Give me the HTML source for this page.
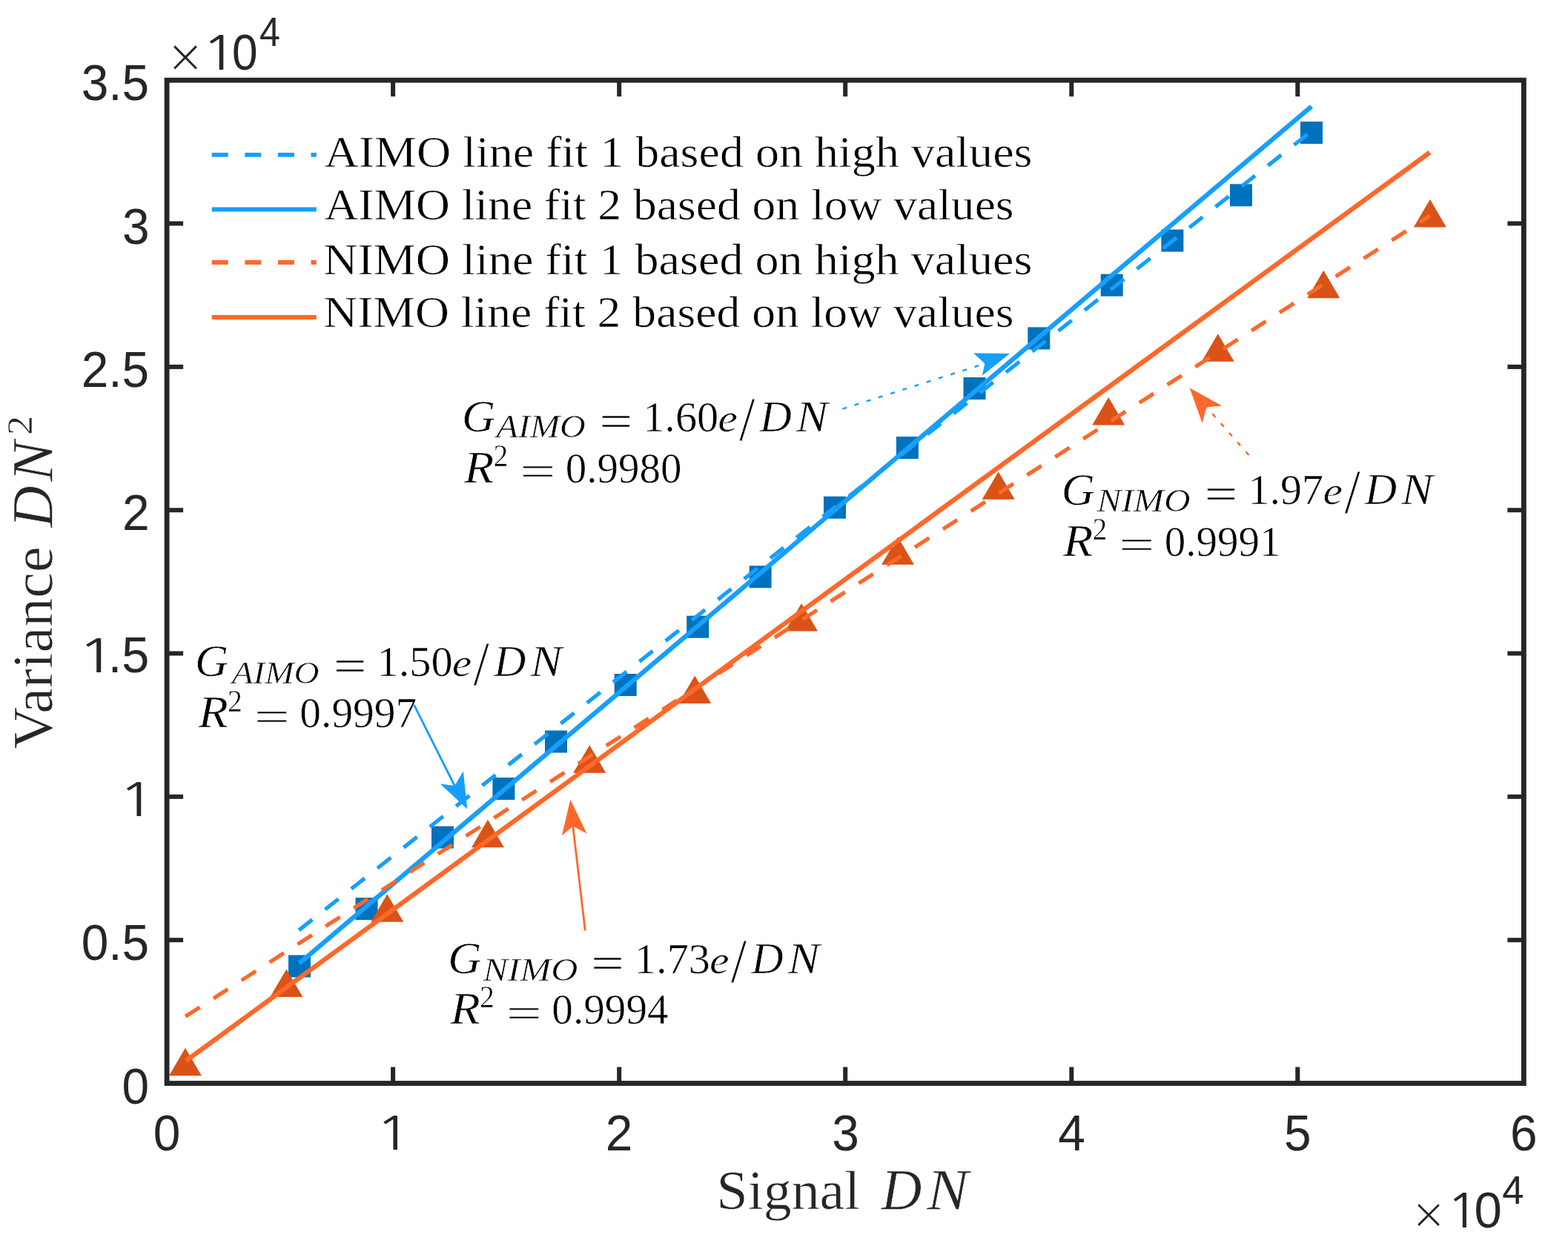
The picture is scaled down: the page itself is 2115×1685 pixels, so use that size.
<!DOCTYPE html><html><head><meta charset="utf-8"><title>Variance vs Signal</title><style>html,body{margin:0;padding:0;background:#fff;}svg{display:block;}</style></head><body>
<svg width="2115" height="1685" viewBox="0 0 2115 1685">
<rect x="0" y="0" width="2115" height="1685" fill="#fff"/>
<defs><filter id="soft" x="0" y="0" width="100%" height="100%" filterUnits="userSpaceOnUse"><feGaussianBlur stdDeviation="0.6"/></filter></defs>
<g filter="url(#soft)">
<g>
<rect x="389.0" y="1288.5" width="30" height="30" fill="#0072BD"/>
<rect x="479.5" y="1211.0" width="30" height="30" fill="#0072BD"/>
<rect x="582.0" y="1114.6" width="30" height="30" fill="#0072BD"/>
<rect x="664.4" y="1049.0" width="30" height="30" fill="#0072BD"/>
<rect x="735.0" y="985.5" width="30" height="30" fill="#0072BD"/>
<rect x="828.7" y="909.0" width="30" height="30" fill="#0072BD"/>
<rect x="926.2" y="830.7" width="30" height="30" fill="#0072BD"/>
<rect x="1010.6" y="763.2" width="30" height="30" fill="#0072BD"/>
<rect x="1111.0" y="669.7" width="30" height="30" fill="#0072BD"/>
<rect x="1208.9" y="589.0" width="30" height="30" fill="#0072BD"/>
<rect x="1299.5" y="509.0" width="30" height="30" fill="#0072BD"/>
<rect x="1386.3" y="441.4" width="30" height="30" fill="#0072BD"/>
<rect x="1484.7" y="369.7" width="30" height="30" fill="#0072BD"/>
<rect x="1566.4" y="309.6" width="30" height="30" fill="#0072BD"/>
<rect x="1659.0" y="248.3" width="30" height="30" fill="#0072BD"/>
<rect x="1754.0" y="164.0" width="30" height="30" fill="#0072BD"/>
<polygon points="249.9,1413.7 271.9,1451.2 227.9,1451.2" fill="#D95319"/>
<polygon points="386.4,1307.5 408.4,1345.0 364.4,1345.0" fill="#D95319"/>
<polygon points="522.3,1206.2 544.3,1243.8 500.3,1243.8" fill="#D95319"/>
<polygon points="658.0,1105.8 680.0,1143.2 636.0,1143.2" fill="#D95319"/>
<polygon points="795.2,1005.2 817.2,1042.8 773.2,1042.8" fill="#D95319"/>
<polygon points="937.2,911.5 959.2,949.0 915.2,949.0" fill="#D95319"/>
<polygon points="1081.0,814.0 1103.0,851.5 1059.0,851.5" fill="#D95319"/>
<polygon points="1211.0,724.2 1233.0,761.8 1189.0,761.8" fill="#D95319"/>
<polygon points="1346.7,636.2 1368.7,673.8 1324.7,673.8" fill="#D95319"/>
<polygon points="1495.2,536.0 1517.2,573.5 1473.2,573.5" fill="#D95319"/>
<polygon points="1642.8,450.2 1664.8,487.8 1620.8,487.8" fill="#D95319"/>
<polygon points="1785.3,364.8 1807.3,402.2 1763.3,402.2" fill="#D95319"/>
<polygon points="1928.9,268.9 1950.9,306.4 1906.9,306.4" fill="#D95319"/>
</g>
<line x1="404" y1="1299.3" x2="1769" y2="143.6" stroke="#149FFF" stroke-width="6.3"/>
<line x1="403.2" y1="1254.9" x2="1769" y2="177.0" stroke="#149FFF" stroke-width="5.2" stroke-dasharray="23 22"/>
<line x1="250.8" y1="1431.1" x2="1928.6" y2="205.6" stroke="#FF682B" stroke-width="6.3"/>
<line x1="250.1" y1="1371.3" x2="1929.0" y2="291.0" stroke="#FF682B" stroke-width="5.2" stroke-dasharray="23 22"/>
<rect x="225.1" y="108.2" width="1830.3000000000002" height="1353.3" fill="none" stroke="#262626" stroke-width="6.8"/>
<line x1="530.1" y1="1461.5" x2="530.1" y2="1439.5" stroke="#262626" stroke-width="6"/>
<line x1="530.1" y1="108.2" x2="530.1" y2="130.2" stroke="#262626" stroke-width="6"/>
<line x1="835.2" y1="1461.5" x2="835.2" y2="1439.5" stroke="#262626" stroke-width="6"/>
<line x1="835.2" y1="108.2" x2="835.2" y2="130.2" stroke="#262626" stroke-width="6"/>
<line x1="1140.2" y1="1461.5" x2="1140.2" y2="1439.5" stroke="#262626" stroke-width="6"/>
<line x1="1140.2" y1="108.2" x2="1140.2" y2="130.2" stroke="#262626" stroke-width="6"/>
<line x1="1445.3" y1="1461.5" x2="1445.3" y2="1439.5" stroke="#262626" stroke-width="6"/>
<line x1="1445.3" y1="108.2" x2="1445.3" y2="130.2" stroke="#262626" stroke-width="6"/>
<line x1="1750.3" y1="1461.5" x2="1750.3" y2="1439.5" stroke="#262626" stroke-width="6"/>
<line x1="1750.3" y1="108.2" x2="1750.3" y2="130.2" stroke="#262626" stroke-width="6"/>
<line x1="225.1" y1="1268.2" x2="247.1" y2="1268.2" stroke="#262626" stroke-width="6"/>
<line x1="2055.4" y1="1268.2" x2="2033.4" y2="1268.2" stroke="#262626" stroke-width="6"/>
<line x1="225.1" y1="1074.8" x2="247.1" y2="1074.8" stroke="#262626" stroke-width="6"/>
<line x1="2055.4" y1="1074.8" x2="2033.4" y2="1074.8" stroke="#262626" stroke-width="6"/>
<line x1="225.1" y1="881.5" x2="247.1" y2="881.5" stroke="#262626" stroke-width="6"/>
<line x1="2055.4" y1="881.5" x2="2033.4" y2="881.5" stroke="#262626" stroke-width="6"/>
<line x1="225.1" y1="688.2" x2="247.1" y2="688.2" stroke="#262626" stroke-width="6"/>
<line x1="2055.4" y1="688.2" x2="2033.4" y2="688.2" stroke="#262626" stroke-width="6"/>
<line x1="225.1" y1="494.9" x2="247.1" y2="494.9" stroke="#262626" stroke-width="6"/>
<line x1="2055.4" y1="494.9" x2="2033.4" y2="494.9" stroke="#262626" stroke-width="6"/>
<line x1="225.1" y1="301.5" x2="247.1" y2="301.5" stroke="#262626" stroke-width="6"/>
<line x1="2055.4" y1="301.5" x2="2033.4" y2="301.5" stroke="#262626" stroke-width="6"/>
<text transform="matrix(0.9750 0 0 1.0095 206.67 1551.90)" font-family='"Liberation Sans",sans-serif' font-size="67.5" fill="#262626">0</text>
<text transform="matrix(1.2045 0 0 0.9045 506.02 1550.50)" font-family='NanumGothic,"Liberation Sans",sans-serif' font-size="67.5" fill="#262626">1</text>
<text transform="matrix(0.9750 0 0 1.0095 816.77 1551.90)" font-family='"Liberation Sans",sans-serif' font-size="67.5" fill="#262626">2</text>
<text transform="matrix(0.9750 0 0 1.0095 1122.15 1551.90)" font-family='"Liberation Sans",sans-serif' font-size="67.5" fill="#262626">3</text>
<text transform="matrix(0.9750 0 0 1.0095 1427.20 1551.90)" font-family='"Liberation Sans",sans-serif' font-size="67.5" fill="#262626">4</text>
<text transform="matrix(0.9750 0 0 1.0242 1731.92 1551.90)" font-family='"Liberation Sans",sans-serif' font-size="67.5" fill="#262626">5</text>
<text transform="matrix(0.9750 0 0 1.0095 2036.97 1551.90)" font-family='"Liberation Sans",sans-serif' font-size="67.5" fill="#262626">6</text>
<text transform="matrix(0.9750 0 0 1.0095 164.38 1488.70)" font-family='"Liberation Sans",sans-serif' font-size="67.5" fill="#262626">0</text>
<text transform="matrix(0.9750 0 0 1.0095 109.75 1295.37)" font-family='"Liberation Sans",sans-serif' font-size="67.5" fill="#262626">0.5</text>
<text transform="matrix(1.2432 0 0 0.9123 159.25 1100.50)" font-family='NanumGothic,"Liberation Sans",sans-serif' font-size="67.5" fill="#262626">1</text>
<text transform="matrix(1.2947 0 0 0.9162 103.97 907.20)" font-family='NanumGothic,"Liberation Sans",sans-serif' font-size="67.5" fill="#262626">1</text>
<text transform="matrix(0.9884 0 0 1.0091 145.70 907.20)" font-family='"Liberation Sans",sans-serif' font-size="67.5" fill="#262626">.5</text>
<text transform="matrix(0.9750 0 0 1.0095 165.04 715.39)" font-family='"Liberation Sans",sans-serif' font-size="67.5" fill="#262626">2</text>
<text transform="matrix(0.9750 0 0 1.0095 109.75 522.06)" font-family='"Liberation Sans",sans-serif' font-size="67.5" fill="#262626">2.5</text>
<text transform="matrix(0.9750 0 0 1.0095 165.04 328.73)" font-family='"Liberation Sans",sans-serif' font-size="67.5" fill="#262626">3</text>
<text transform="matrix(0.9750 0 0 1.0095 109.75 135.40)" font-family='"Liberation Sans",sans-serif' font-size="67.5" fill="#262626">3.5</text>
<text transform="matrix(0.9551 0 0 0.9575 1903.03 1656.75)" font-family='"DejaVu Sans",sans-serif' font-size="60" font-weight="200" fill="#262626">×</text>
<text transform="matrix(1.1014 0 0 0.9454 1950.49 1656.40)" font-family='NanumGothic,"Liberation Sans",sans-serif' font-size="67.5" fill="#262626">1</text>
<text transform="matrix(0.9938 0 0 1.0265 1988.62 1656.40)" font-family='"Liberation Sans",sans-serif' font-size="67.5" fill="#262626">0</text>
<text transform="matrix(1.0106 0 0 1.0357 2026.15 1623.50)" font-family='"Liberation Sans",sans-serif' font-size="52" fill="#262626">4</text>
<g>
<text transform="matrix(1.0256 0 0 1.0425 224.15 97.45)" font-family='"DejaVu Sans",sans-serif' font-size="60" font-weight="200" fill="#262626">×</text>
<text transform="matrix(1.1852 0 0 0.9357 271.80 94.40)" font-family='NanumGothic,"Liberation Sans",sans-serif' font-size="67.5" fill="#262626">1</text>
<text transform="matrix(0.9198 0 0 1.0201 313.12 94.40)" font-family='"Liberation Sans",sans-serif' font-size="67.5" fill="#262626">0</text>
<text transform="matrix(0.9653 0 0 1.0522 350.00 61.80)" font-family='"Liberation Sans",sans-serif' font-size="52" fill="#262626">4</text>
</g>
<text transform="matrix(1.0242 0 0 0.9929 966.59 1631.30)" font-family='"Liberation Serif",serif' font-size="74" fill="#262626" stroke="#fff" stroke-width="0.6">Signal</text>
<text transform="matrix(1.0229 0 0 1.0541 1188.86 1631.30)" font-family='"Liberation Serif",serif' font-size="74" font-style="italic" fill="#262626" stroke="#fff" stroke-width="0.6">D</text>
<text transform="matrix(1.1336 0 0 1.0541 1250.24 1631.30)" font-family='"Liberation Serif",serif' font-size="74" font-style="italic" fill="#262626" stroke="#fff" stroke-width="0.6">N</text>
<g transform="rotate(-90)">
<text transform="matrix(1.0556 0 0 1.0381 -1010.58 70.00)" font-family='"Liberation Serif",serif' font-size="74" fill="#262626" stroke="#fff" stroke-width="0.6">Variance</text>
<text transform="matrix(1.0567 0 0 1.0541 -711.72 70.00)" font-family='"Liberation Serif",serif' font-size="74" font-style="italic" fill="#262626" stroke="#fff" stroke-width="0.6">D</text>
<text transform="matrix(1.1111 0 0 1.0541 -649.68 70.00)" font-family='"Liberation Serif",serif' font-size="74" font-style="italic" fill="#262626" stroke="#fff" stroke-width="0.6">N</text>
<text transform="matrix(1.0038 0 0 0.9353 -586.99 42.80)" font-family='"Liberation Serif",serif' font-size="52" fill="#262626" stroke="#fff" stroke-width="0.6">2</text>
</g>
<line x1="285.7" y1="208.8" x2="426.8" y2="208.8" stroke="#149FFF" stroke-width="5.8" stroke-dasharray="22 22.6"/>
<text transform="matrix(1.0331 0 0 0.9700 437.46 224.70)" font-family='"Liberation Serif",serif' font-size="62" fill="#000" stroke="#fff" stroke-width="0.6">AIMO line fit 1 based on high values</text>
<line x1="285.7" y1="282.5" x2="426.8" y2="282.5" stroke="#149FFF" stroke-width="5.8"/>
<text transform="matrix(1.0253 0 0 0.9700 437.46 296.10)" font-family='"Liberation Serif",serif' font-size="62" fill="#000" stroke="#fff" stroke-width="0.6">AIMO line fit 2 based on low values</text>
<line x1="285.7" y1="354.0" x2="426.8" y2="354.0" stroke="#FF682B" stroke-width="5.8" stroke-dasharray="22 22.6"/>
<text transform="matrix(1.0345 0 0 0.9700 436.18 369.60)" font-family='"Liberation Serif",serif' font-size="62" fill="#000" stroke="#fff" stroke-width="0.6">NIMO line fit 1 based on high values</text>
<line x1="285.7" y1="428.0" x2="426.8" y2="428.0" stroke="#FF682B" stroke-width="5.8"/>
<text transform="matrix(1.0267 0 0 0.9700 436.19 440.70)" font-family='"Liberation Serif",serif' font-size="62" fill="#000" stroke="#fff" stroke-width="0.6">NIMO line fit 2 based on low values</text>
<text transform="matrix(1.0385 0 0 1.0227 622.98 582.20)" font-family='"Liberation Serif",serif' font-size="60" font-style="italic" fill="#000" stroke="#fff" stroke-width="0.6">G</text>
<text transform="matrix(1.0941 0 0 0.9952 669.61 590.20)" font-family='"Liberation Serif",serif' font-size="44" font-style="italic" fill="#000" stroke="#fff" stroke-width="0.6">AIMO</text>
<text transform="matrix(1.3298 0 0 1.0267 808.31 589.04)" font-family='"Liberation Serif",serif' font-size="60" fill="#000" stroke="#fff" stroke-width="0.6">=</text>
<text transform="matrix(0.9733 0 0 0.9621 867.14 582.20)" font-family='"Liberation Serif",serif' font-size="60" fill="#000" stroke="#fff" stroke-width="0.6">1.60</text>
<text transform="matrix(1.0714 0 0 0.9309 968.30 582.20)" font-family='"Liberation Serif",serif' font-size="56" font-style="italic" fill="#000" stroke="#fff" stroke-width="0.6">e</text>
<text transform="matrix(1.2857 0 0 1.4080 997.10 594.11)" font-family='"Liberation Serif",serif' font-size="60" fill="#000" stroke="#fff" stroke-width="0.6">/</text>
<text transform="matrix(0.9954 0 0 0.9769 1024.80 582.20)" font-family='"Liberation Serif",serif' font-size="60" font-style="italic" fill="#000" stroke="#fff" stroke-width="0.6">D</text>
<text transform="matrix(1.0671 0 0 0.9769 1074.04 582.20)" font-family='"Liberation Serif",serif' font-size="60" font-style="italic" fill="#000" stroke="#fff" stroke-width="0.6">N</text>
<text transform="matrix(1.1017 0 0 1.0179 626.00 650.60)" font-family='"Liberation Serif",serif' font-size="60" font-style="italic" fill="#000" stroke="#fff" stroke-width="0.6">R</text>
<text transform="matrix(0.9466 0 0 0.9848 665.61 628.70)" font-family='"Liberation Serif",serif' font-size="42" fill="#000" stroke="#fff" stroke-width="0.6">2</text>
<text transform="matrix(1.4220 0 0 0.9600 701.13 655.10)" font-family='"Liberation Serif",serif' font-size="60" fill="#000" stroke="#fff" stroke-width="0.6">=</text>
<text transform="matrix(0.9501 0 0 0.9672 762.82 650.60)" font-family='"Liberation Serif",serif' font-size="60" fill="#000" stroke="#fff" stroke-width="0.6">0.9980</text>
<text transform="matrix(1.0385 0 0 1.0227 262.98 912.20)" font-family='"Liberation Serif",serif' font-size="60" font-style="italic" fill="#000" stroke="#fff" stroke-width="0.6">G</text>
<text transform="matrix(1.0717 0 0 0.9745 312.66 921.50)" font-family='"Liberation Serif",serif' font-size="44" font-style="italic" fill="#000" stroke="#fff" stroke-width="0.6">AIMO</text>
<text transform="matrix(1.3298 0 0 1.0267 449.71 918.64)" font-family='"Liberation Serif",serif' font-size="60" fill="#000" stroke="#fff" stroke-width="0.6">=</text>
<text transform="matrix(0.9733 0 0 0.9621 508.54 911.80)" font-family='"Liberation Serif",serif' font-size="60" fill="#000" stroke="#fff" stroke-width="0.6">1.50</text>
<text transform="matrix(1.0714 0 0 0.9309 609.70 911.80)" font-family='"Liberation Serif",serif' font-size="56" font-style="italic" fill="#000" stroke="#fff" stroke-width="0.6">e</text>
<text transform="matrix(1.2857 0 0 1.4080 638.50 923.71)" font-family='"Liberation Serif",serif' font-size="60" fill="#000" stroke="#fff" stroke-width="0.6">/</text>
<text transform="matrix(0.9954 0 0 0.9769 666.20 911.80)" font-family='"Liberation Serif",serif' font-size="60" font-style="italic" fill="#000" stroke="#fff" stroke-width="0.6">D</text>
<text transform="matrix(1.0671 0 0 0.9769 715.44 911.80)" font-family='"Liberation Serif",serif' font-size="60" font-style="italic" fill="#000" stroke="#fff" stroke-width="0.6">N</text>
<text transform="matrix(1.1017 0 0 1.0179 267.50 981.40)" font-family='"Liberation Serif",serif' font-size="60" font-style="italic" fill="#000" stroke="#fff" stroke-width="0.6">R</text>
<text transform="matrix(0.9466 0 0 0.9848 307.11 959.50)" font-family='"Liberation Serif",serif' font-size="42" fill="#000" stroke="#fff" stroke-width="0.6">2</text>
<text transform="matrix(1.4220 0 0 0.9600 342.63 985.90)" font-family='"Liberation Serif",serif' font-size="60" fill="#000" stroke="#fff" stroke-width="0.6">=</text>
<text transform="matrix(0.9577 0 0 0.9672 404.30 981.40)" font-family='"Liberation Serif",serif' font-size="60" fill="#000" stroke="#fff" stroke-width="0.6">0.9997</text>
<text transform="matrix(1.0385 0 0 1.0227 1431.68 680.90)" font-family='"Liberation Serif",serif' font-size="60" font-style="italic" fill="#000" stroke="#fff" stroke-width="0.6">G</text>
<text transform="matrix(1.1220 0 0 0.9952 1479.49 690.20)" font-family='"Liberation Serif",serif' font-size="44" font-style="italic" fill="#000" stroke="#fff" stroke-width="0.6">NIMO</text>
<text transform="matrix(1.3298 0 0 1.0267 1624.61 687.04)" font-family='"Liberation Serif",serif' font-size="60" fill="#000" stroke="#fff" stroke-width="0.6">=</text>
<text transform="matrix(0.9673 0 0 0.9621 1683.48 680.20)" font-family='"Liberation Serif",serif' font-size="60" fill="#000" stroke="#fff" stroke-width="0.6">1.97</text>
<text transform="matrix(1.0714 0 0 0.9309 1784.60 680.20)" font-family='"Liberation Serif",serif' font-size="56" font-style="italic" fill="#000" stroke="#fff" stroke-width="0.6">e</text>
<text transform="matrix(1.2857 0 0 1.4080 1813.40 692.11)" font-family='"Liberation Serif",serif' font-size="60" fill="#000" stroke="#fff" stroke-width="0.6">/</text>
<text transform="matrix(0.9954 0 0 0.9769 1841.10 680.20)" font-family='"Liberation Serif",serif' font-size="60" font-style="italic" fill="#000" stroke="#fff" stroke-width="0.6">D</text>
<text transform="matrix(1.0671 0 0 0.9769 1890.34 680.20)" font-family='"Liberation Serif",serif' font-size="60" font-style="italic" fill="#000" stroke="#fff" stroke-width="0.6">N</text>
<text transform="matrix(1.1017 0 0 1.0179 1434.00 749.60)" font-family='"Liberation Serif",serif' font-size="60" font-style="italic" fill="#000" stroke="#fff" stroke-width="0.6">R</text>
<text transform="matrix(0.9466 0 0 0.9848 1473.61 727.70)" font-family='"Liberation Serif",serif' font-size="42" fill="#000" stroke="#fff" stroke-width="0.6">2</text>
<text transform="matrix(1.4220 0 0 0.9600 1509.13 754.10)" font-family='"Liberation Serif",serif' font-size="60" fill="#000" stroke="#fff" stroke-width="0.6">=</text>
<text transform="matrix(0.9497 0 0 0.9672 1570.82 749.60)" font-family='"Liberation Serif",serif' font-size="60" fill="#000" stroke="#fff" stroke-width="0.6">0.9991</text>
<text transform="matrix(1.0385 0 0 1.0227 604.18 1312.80)" font-family='"Liberation Serif",serif' font-size="60" font-style="italic" fill="#000" stroke="#fff" stroke-width="0.6">G</text>
<text transform="matrix(1.1390 0 0 0.9952 651.40 1322.70)" font-family='"Liberation Serif",serif' font-size="44" font-style="italic" fill="#000" stroke="#fff" stroke-width="0.6">NIMO</text>
<text transform="matrix(1.3298 0 0 1.0267 797.01 1319.74)" font-family='"Liberation Serif",serif' font-size="60" fill="#000" stroke="#fff" stroke-width="0.6">=</text>
<text transform="matrix(0.9733 0 0 0.9621 855.84 1312.90)" font-family='"Liberation Serif",serif' font-size="60" fill="#000" stroke="#fff" stroke-width="0.6">1.73</text>
<text transform="matrix(1.0714 0 0 0.9309 957.00 1312.90)" font-family='"Liberation Serif",serif' font-size="56" font-style="italic" fill="#000" stroke="#fff" stroke-width="0.6">e</text>
<text transform="matrix(1.2857 0 0 1.4080 985.80 1324.81)" font-family='"Liberation Serif",serif' font-size="60" fill="#000" stroke="#fff" stroke-width="0.6">/</text>
<text transform="matrix(0.9954 0 0 0.9769 1013.50 1312.90)" font-family='"Liberation Serif",serif' font-size="60" font-style="italic" fill="#000" stroke="#fff" stroke-width="0.6">D</text>
<text transform="matrix(1.0671 0 0 0.9769 1062.74 1312.90)" font-family='"Liberation Serif",serif' font-size="60" font-style="italic" fill="#000" stroke="#fff" stroke-width="0.6">N</text>
<text transform="matrix(1.1017 0 0 1.0179 607.50 1381.10)" font-family='"Liberation Serif",serif' font-size="60" font-style="italic" fill="#000" stroke="#fff" stroke-width="0.6">R</text>
<text transform="matrix(0.9466 0 0 0.9848 647.11 1359.20)" font-family='"Liberation Serif",serif' font-size="42" fill="#000" stroke="#fff" stroke-width="0.6">2</text>
<text transform="matrix(1.4220 0 0 0.9600 682.63 1385.60)" font-family='"Liberation Serif",serif' font-size="60" fill="#000" stroke="#fff" stroke-width="0.6">=</text>
<text transform="matrix(0.9531 0 0 0.9672 744.31 1381.10)" font-family='"Liberation Serif",serif' font-size="60" fill="#000" stroke="#fff" stroke-width="0.6">0.9994</text>
<line x1="558.5" y1="950.9" x2="613.2" y2="1060" stroke="#149FFF" stroke-width="2.8"/>
<polygon points="630.3,1091.5 593.7,1057.4 613.2,1060 624.9,1040.4" fill="#149FFF"/>
<line x1="789.3" y1="1255.4" x2="772.8" y2="1114.5" stroke="#FF682B" stroke-width="2.8"/>
<polygon points="769.3,1078.7 757.9,1127.3 772.8,1114.5 791.5,1124.4" fill="#FF682B"/>
<line x1="1136.3" y1="551.7" x2="1328.3" y2="490.6" stroke="#149FFF" stroke-width="2.4" stroke-dasharray="6 11"/>
<polygon points="1362,477 1313.2,476.4 1328.3,490.6 1324.8,506.7" fill="#149FFF"/>
<line x1="1684.4" y1="613.9" x2="1627.4" y2="549.3" stroke="#FF682B" stroke-width="2.4" stroke-dasharray="6 11"/>
<polygon points="1604.6,523.2 1648.3,547.4 1627.4,549.3 1621.7,570.7" fill="#FF682B"/>
</g>
</svg></body></html>
